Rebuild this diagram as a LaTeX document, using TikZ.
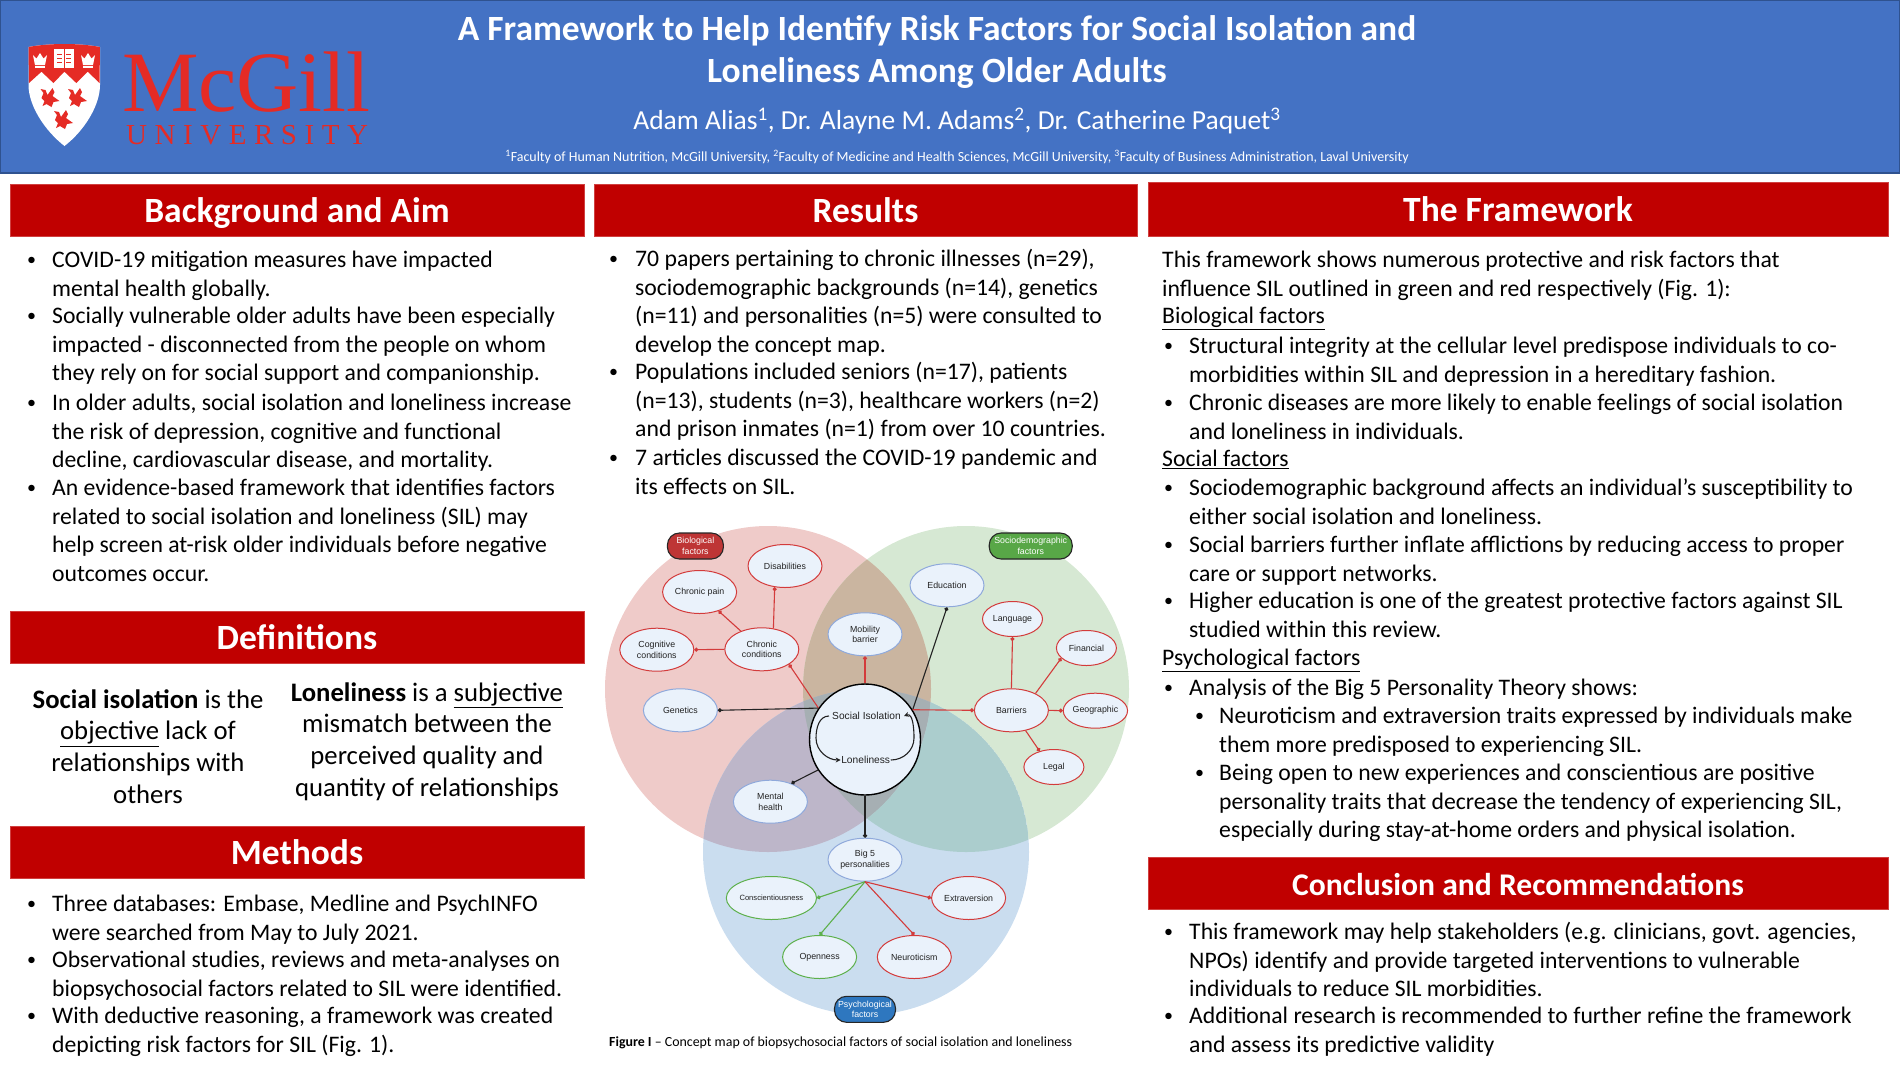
\documentclass[tikz,border=0pt]{standalone}
\usepackage{fontspec}
\usetikzlibrary{shapes.geometric,arrows.meta}
\setmainfont{Carlito}
\newfontfamily\arialf{Liberation Sans}
\newfontfamily\serifA{Liberation Serif}
\newfontfamily\serifB[LetterSpace=26]{Liberation Serif}
\definecolor{headblue}{HTML}{4472C4}
\definecolor{headedge}{HTML}{2F528F}
\definecolor{barred}{HTML}{C00000}
\definecolor{mcred}{HTML}{E52B25}
\definecolor{vred}{HTML}{EFCBC9}
\definecolor{vgreen}{HTML}{D6E8D3}
\definecolor{vblue}{HTML}{CADDEF}
\definecolor{vrg}{HTML}{CAB5A0}
\definecolor{vrb}{HTML}{BDB6C9}
\definecolor{vgb}{HTML}{ABCDCD}
\definecolor{vrgb}{HTML}{A6AFB3}
\definecolor{pblue}{HTML}{2E77BF}
\definecolor{ellfill}{HTML}{EAF2FB}
\definecolor{eblue}{HTML}{8FA9DB}
\definecolor{ered}{HTML}{D33B3B}
\definecolor{egreen}{HTML}{5DB04B}
\definecolor{inkc}{HTML}{222222}
\tikzset{
  titletext/.style={inner sep=0,text=white,font=\fontsize{35.5}{42}\selectfont\bfseries,anchor=center},
  bar/.style={fill=barred,draw=barred!75!white,line width=0.6pt,inner sep=0,text=white,anchor=center,text height=26pt,text depth=2pt,font=\fontsize{35.5}{40}\selectfont\bfseries},
  body/.style={inner sep=0,anchor=north west,align=left,text=black,font=\fontsize{23.7}{28.6}\selectfont},
  bodyc/.style={inner sep=0,anchor=north,align=center,text=black,font=\fontsize{26.7}{31.6}\selectfont},
  venn/.style={circle,minimum size=326pt,inner sep=0},
  ell/.style={ellipse,fill=ellfill,line width=1pt,inner sep=0,minimum width=74pt,minimum height=43pt,align=center,text=inkc,font=\arialf\fontsize{8.8}{10.4}\selectfont},
  ellb/.style={ell,draw=eblue},
  ellr/.style={ell,draw=ered},
  ellg/.style={ell,draw=egreen},
  small/.style={minimum width=60pt,minimum height=35pt},
  pill/.style={rounded corners=12pt,draw=black!85,line width=1.1pt,inner sep=0,minimum height=26pt,align=center,text=white,font=\arialf\fontsize{8.8}{10.4}\selectfont},
  rl/.style={ered,line width=1.1pt},
  kl/.style={inkc,line width=1.1pt},
  gl/.style={egreen,line width=1.1pt},
  dot/.style={-{Circle[length=4pt,width=4pt]}},
}
\newcommand{\bulletgap}{25}
\newcommand{\bl}[4]{%
  \node[body] (#1b) at ({#2},{#3-11.6}) {\strut\raisebox{2pt}{\fontsize{18}{28.6}\selectfont•}};
  \node[body] (#1) at ({#2+\bulletgap},{#3-11.6}) {\strut #4};
}
\newcommand{\birdshape}[2]{\fill[mcred,shift={(#1,#2)}] (-9,-9)--(-4,-8)--(-2,-3)--(3,-10)--(5,-6)--(3,-2)--(10,3)--(4,4)--(2,9)--(-3,6)--(-7,8)--(-5,3)--(-8,0)--(-6,-5)--cycle;}
\newcommand{\crownshape}[2]{\fill[white,shift={(#1,#2)}] (-7,-5)--(-3.5,-1.5)--(0,-7)--(3.5,-1.5)--(7,-5)--(5,5)--(-5,5)--cycle;\fill[white,shift={(#1,#2)}] (-5,6)rectangle(5,8);}
\begin{document}
\begin{tikzpicture}[x=1pt,y=-1pt]
\useasboundingbox (0,0) rectangle (1900,1069);
% header
\path[fill=headblue,draw=headedge,line width=1.2pt] (0.5,0.5) rectangle (1899.5,173);
\node[titletext] (t1) at (937,31) {A Framework to Help Identify Risk Factors for Social Isolation and};
\node[titletext] (t2) at (937,73) {Loneliness Among Older Adults};
\node[inner sep=0,text=white,font=\fontsize{27.5}{32}\selectfont] (auth) at (957,121) {Adam Alias\textsuperscript{1}, Dr. Alayne M. Adams\textsuperscript{2}, Dr. Catherine Paquet\textsuperscript{3}};
\node[inner sep=0,text=white,font=\fontsize{13.95}{16}\selectfont] (aff) at (957,157) {\textsuperscript{1}Faculty of Human Nutrition, McGill University, \textsuperscript{2}Faculty of Medicine and Health Sciences, McGill University, \textsuperscript{3}Faculty of Business Administration, Laval University};
% logo
\path[fill=white] (28.5,47) .. controls (50,43) and (79,43) .. (100,47) -- (100,85) .. controls (100,105) and (85,130) .. (64.5,146) .. controls (44,130) and (28.5,105) .. (28.5,85) -- cycle;
\path[fill=mcred] (28.5,47) .. controls (50,43) and (79,43) .. (100,47) -- (99.5,83) -- (87.7,71.7) -- (76.3,83) -- (64.4,71.7) -- (53.4,83) -- (41.5,71.7) -- (29,83) -- cycle;
\fill[white] (54,49) rectangle (74,68);
\draw[mcred,line width=0.5pt] (64,49) -- (64,68) (57,54)--(62,54) (57,58)--(62,58) (57,62)--(62,62) (66,54)--(71,54) (66,58)--(71,58) (66,62)--(71,62);
\crownshape{40}{60}
\crownshape{88}{60}
\birdshape{49.5}{98}
\birdshape{77}{98}
\birdshape{63}{120}
\node[inner sep=0,anchor=base west,text=mcred,text height=60pt,text depth=0pt,font=\serifA\fontsize{86}{86}\selectfont] (mcgill) at (122,111) {McGill};
\node[inner sep=0,anchor=base west,text=mcred,text height=20pt,text depth=0pt,font=\serifB\fontsize{29}{29}\selectfont] (univ) at (126,144) {UNIVERSITY};
% bars
\node[bar,minimum width=574pt,minimum height=52pt] (b1) at (297,210) {Background and Aim};
\node[bar,minimum width=543pt,minimum height=52pt] (b2) at (865.5,210) {Results};
\node[bar,minimum width=740pt,minimum height=54pt] (b3) at (1518,209) {The Framework};
\node[bar,minimum width=574pt,minimum height=52pt] (b4) at (297,637) {Definitions};
\node[bar,minimum width=574pt,minimum height=52pt] (b5) at (297,852) {Methods};
\node[bar,minimum width=740pt,minimum height=52pt,font=\fontsize{31.6}{38}\selectfont\bfseries] (b6) at (1518,883) {Conclusion and Recommendations};
% column 1
\renewcommand{\bulletgap}{25}
\bl{a}{27}{259}{COVID-19 mitigation measures have impacted\\mental health globally.}
\bl{c}{27}{315}{Socially vulnerable older adults have been especially\\impacted - disconnected from the people on whom\\they rely on for social support and companionship.}
\bl{d}{27}{402}{In older adults, social isolation and loneliness increase\\the risk of depression, cognitive and functional\\decline, cardiovascular disease, and mortality.}
\bl{e}{27}{487}{An evidence-based framework that identifies factors\\related to social isolation and loneliness (SIL) may\\help screen at-risk older individuals before negative\\outcomes occur.}
\node[bodyc] (defl) at (148,686) {\strut\textbf{Social isolation} is the\\\underline{objective} lack of\\relationships with\\others};
\node[bodyc] (defr) at (427,679) {\strut\textbf{Loneliness} is a \underline{subjective}\\mismatch between the\\perceived quality and\\quantity of relationships};
\bl{f}{27}{903}{Three databases: Embase, Medline and PsychINFO\\were searched from May to July 2021.}
\bl{g}{27}{959}{Observational studies, reviews and meta-analyses on\\biopsychosocial factors related to SIL were identified.}
\bl{h}{27}{1015}{With deductive reasoning, a framework was created\\depicting risk factors for SIL (Fig. 1).}
% column 2
\renewcommand{\bulletgap}{26}
\bl{i}{609}{258}{70 papers pertaining to chronic illnesses (n=29),\\sociodemographic backgrounds (n=14), genetics\\(n=11) and personalities (n=5) were consulted to\\develop the concept map.}
\bl{j}{609}{371}{Populations included seniors (n=17), patients\\(n=13), students (n=3), healthcare workers (n=2)\\and prison inmates (n=1) from over 10 countries.}
\bl{k}{609}{457}{7 articles discussed the COVID-19 pandemic and\\its effects on SIL.}
% column 3
\node[body] (intro) at (1162,247.4) {\strut This framework shows numerous protective and risk factors that\\influence SIL outlined in green and red respectively (Fig. 1):};
\node[body] (h1) at (1162,303.4) {\strut\underline{Biological factors}};
\renewcommand{\bulletgap}{25}
\bl{l}{1164}{345}{Structural integrity at the cellular level predispose individuals to co-\\morbidities within SIL and depression in a hereditary fashion.}
\bl{m}{1164}{402}{Chronic diseases are more likely to enable feelings of social isolation\\and loneliness in individuals.}
\node[body] (h2) at (1162,446.4) {\strut\underline{Social factors}};
\bl{n}{1164}{487}{Sociodemographic background affects an individual’s susceptibility to\\either social isolation and loneliness.}
\bl{o}{1164}{544}{Social barriers further inflate afflictions by reducing access to proper\\care or support networks.}
\bl{p}{1164}{600}{Higher education is one of the greatest protective factors against SIL\\studied within this review.}
\node[body] (h3) at (1162,645.4) {\strut\underline{Psychological factors}};
\bl{q}{1164}{687}{Analysis of the Big 5 Personality Theory shows:}
\renewcommand{\bulletgap}{24}
\bl{r}{1195}{715}{Neuroticism and extraversion traits expressed by individuals make\\them more predisposed to experiencing SIL.}
\bl{s}{1195}{772}{Being open to new experiences and conscientious are positive\\personality traits that decrease the tendency of experiencing SIL,\\especially during stay-at-home orders and physical isolation.}
\renewcommand{\bulletgap}{25}
\bl{u}{1164}{931}{This framework may help stakeholders (e.g. clinicians, govt. agencies,\\NPOs) identify and provide targeted interventions to vulnerable\\individuals to reduce SIL morbidities.}
\bl{v}{1164}{1015}{Additional research is recommended to further refine the framework\\and assess its predictive validity}
% venn
\node[venn,fill=vred] (vr) at (768,689) {};
\node[venn,fill=vgreen] (vg) at (966,689) {};
\node[venn,fill=vblue] (vb) at (866,852) {};
\begin{scope}
  \clip (vr.center) circle[radius=163];
  \fill[vrg] (vg.center) circle[radius=163];
  \fill[vrb] (vb.center) circle[radius=163];
  \clip (vg.center) circle[radius=163];
  \fill[vrgb] (vb.center) circle[radius=163];
\end{scope}
\begin{scope}
  \clip (vg.center) circle[radius=163];
  \clip (vb.center) circle[radius=163];
  \begin{scope}[even odd rule]
    \clip (vr.center) circle[radius=163] (500,400) rectangle (1300,1100);
    \fill[vgb] (vb.center) circle[radius=163];
  \end{scope}
\end{scope}
% nodes
\node[circle,fill=ellfill,draw=black,line width=1.4pt,minimum size=111pt,inner sep=0] (core) at (865,739.5) {};
\node[inner sep=3pt,text=inkc,font=\arialf\fontsize{10.2}{12}\selectfont] (si) at (866.5,716) {Social Isolation};
\node[inner sep=0.5pt,text=inkc,font=\arialf\fontsize{10.2}{12}\selectfont] (lon) at (865.7,760) {Loneliness};
\coordinate (cl) at (816,738);
\coordinate (cr) at (914,738);
\node[ellr] (dis) at (785,566) {Disabilities};
\node[ellr] (cp) at (699.6,592) {Chronic pain};
\node[ellr] (cog) at (656.8,649.7) {Cognitive\\conditions};
\node[ellr] (cc) at (761.8,649.3) {Chronic\\conditions};
\node[ellb] (gen) at (680.4,710.3) {Genetics};
\node[ellb] (mob) at (865,634.3) {Mobility\\barrier};
\node[ellb] (edu) at (947,585.3) {Education};
\node[ellr,small] (lang) at (1012.5,619) {Language};
\node[ellr,small] (fin) at (1086.4,648) {Financial};
\node[ellr] (bar) at (1011.4,710.3) {Barriers};
\node[ellr,small] (geo) at (1095.4,710.7) {Geographic};
\node[ellr,small] (leg) at (1053.9,767) {Legal};
\node[ellb] (men) at (770.4,801.7) {Mental\\health};
\node[ellb] (big) at (865,859.7) {Big 5\\personalities};
\node[ellg,font=\arialf\fontsize{7.6}{9}\selectfont] (con) at (771.4,898) {Conscientiousness};
\node[ellr] (ext) at (968.6,898) {Extraversion};
\node[ellg] (ope) at (819.6,957) {Openness};
\node[ellr] (neu) at (914.3,957) {Neuroticism};
\node[pill,fill=ered!90!black,minimum width=56pt] (pb) at (695.4,546) {Biological\\factors};
\node[pill,fill=egreen!95!black,minimum width=83pt] (ps) at (1030.7,546) {Sociodemographic\\factors};
\node[pill,fill=pblue,minimum width=61pt] (pp) at (865,1009.3) {Psychological\\factors};
% connectors
\draw[rl,dot] (cc.61) -- (dis.244);
\draw[rl,dot] (cc.139) -- (cp.315);
\draw[rl,dot] (cc.west) -- (cog.east);
\draw[rl,dot] (core.146) -- (cc.331);
\draw[kl,dot] (core.146) -- (gen.east);
\draw[rl,dot] (core.north) -- (mob.south);
\draw[kl,dot] (core.32) -- (edu.south);
\draw[rl,dot] (core.32) -- (bar.west);
\draw[rl,dot] (bar.north) -- (lang.south);
\draw[rl,dot] (bar.35) -- (fin.202);
\draw[rl,dot] (bar.east) -- (geo.west);
\draw[rl,dot] (bar.305) -- (leg.132);
\draw[kl,dot] (core.213) -- (men.41);
\draw[kl,line width=1.4pt,dot] (core.south) -- (big.north);
\draw[gl,dot] (big.south) -- (con.east);
\draw[gl,dot] (big.south) -- (ope.north);
\draw[rl,dot] (big.south) -- (ext.west);
\draw[rl,dot] (big.south) -- (neu.north);
\draw[kl,-{Stealth[length=5pt,width=5pt]}] (si.west) to[out=180,in=90] (cl) to[out=-90,in=180] (lon.west);
\draw[kl,-{Stealth[length=5pt,width=5pt]}] (lon.east) to[out=0,in=-90] (cr) to[out=90,in=20] (si.east);
% caption
\node[inner sep=0,anchor=west,text=black,font=\fontsize{13.9}{15}\selectfont] (cap) at (609,1043) {\textbf{Figure I} – Concept map of biopsychosocial factors of social isolation and loneliness};
\end{tikzpicture}
\end{document}
